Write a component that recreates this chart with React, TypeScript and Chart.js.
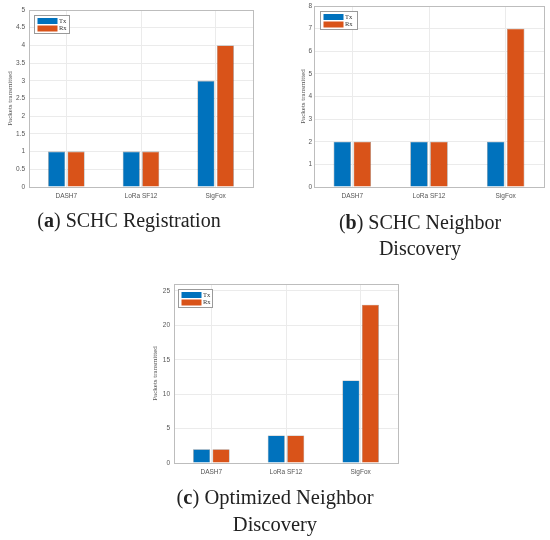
import React, { useRef, useEffect } from "react";
import { Chart, registerables } from "chart.js";
Chart.register(...registerables);

const categories = ["DASH7", "LoRa SF12", "SigFox"];
const seriesNames = ["Tx", "Rx"];

const regTx = [1, 1, 3];
const regRx = [1, 1, 4];

const ndTx = [2, 2, 2];
const ndRx = [2, 2, 7];

const optTx = [2, 4, 12];
const optRx = [2, 4, 23];

const TX_COLOR = "#0072BD";
const RX_COLOR = "#D95319";
const GRID = "#ebebeb";
const TICK_COLOR = "#555";

// draws the box round the axes and the little matlab-style legend
const framePlugin = {
  id: "frameLegend",
  afterDraw(chart: any) {
    const { ctx, chartArea } = chart;
    const opts = chart.options.plugins.frameLegend || {};
    ctx.save();
    ctx.strokeStyle = "#bdbdbd";
    ctx.lineWidth = 1;
    ctx.strokeRect(
      Math.round(chartArea.left) + 0.5,
      Math.round(chartArea.top) + 0.5,
      Math.round(chartArea.right - chartArea.left),
      Math.round(chartArea.bottom - chartArea.top)
    );

    const x = Math.round(chartArea.left + (opts.dx || 5)) + 0.5;
    const y = Math.round(chartArea.top + (opts.dy || 5)) + 0.5;
    const w = opts.w || 35;
    const h = 18;
    ctx.fillStyle = "#fff";
    ctx.fillRect(x, y, w, h);
    ctx.strokeStyle = "#9a9a9a";
    ctx.strokeRect(x, y, w, h);
    chart.data.datasets.forEach((ds: any, i: number) => {
      const sy = y + 2.5 + i * 7.5;
      ctx.fillStyle = ds.backgroundColor;
      ctx.fillRect(x + 3, sy, 20, 6);
      ctx.fillStyle = "#333";
      ctx.font = "6.5px 'Liberation Serif', serif";
      ctx.textBaseline = "middle";
      ctx.fillText(ds.label, x + 24.5, sy + 3.2);
    });
    ctx.restore();
  },
};

type PanelProps = {
  left: number;
  top: number;
  width: number;
  height: number;
  padL: number;
  padT: number;
  padR: number;
  yW: number;
  xH: number;
  tickPad: number;
  max: number;
  step: number;
  tx: number[];
  rx: number[];
  legendDx: number;
  legendDy: number;
  legendW: number;
};

const Panel: React.FC<PanelProps> = (p) => {
  const chartRef = useRef<HTMLCanvasElement | null>(null);
  const chartInstanceRef = useRef<Chart | null>(null);

  useEffect(() => {
    if (!chartRef.current) return;
    const tickFont = { family: "'Liberation Sans', Arial, sans-serif", size: 6.5 };
    chartInstanceRef.current = new Chart(chartRef.current, {
      type: "bar",
      data: {
        labels: categories,
        datasets: [
          {
            label: seriesNames[0],
            data: p.tx,
            backgroundColor: TX_COLOR,
            borderColor: "rgba(40,40,40,0.55)",
            borderWidth: 0.6,
            categoryPercentage: 0.52,
            barPercentage: 0.88,
          },
          {
            label: seriesNames[1],
            data: p.rx,
            backgroundColor: RX_COLOR,
            borderColor: "rgba(40,40,40,0.55)",
            borderWidth: 0.6,
            categoryPercentage: 0.52,
            barPercentage: 0.88,
          },
        ],
      },
      options: {
        responsive: false,
        animation: false,
        layout: { padding: { left: p.padL, top: p.padT, right: p.padR, bottom: 0 } },
        plugins: {
          legend: { display: false },
          tooltip: { enabled: false },
          frameLegend: { dx: p.legendDx, dy: p.legendDy, w: p.legendW },
        } as any,
        scales: {
          x: {
            offset: true,
            grid: { offset: false, color: GRID, drawTicks: false },
            border: { color: "#9a9a9a" },
            ticks: { font: tickFont, color: TICK_COLOR, padding: 5, maxRotation: 0 },
            afterFit: (s: any) => {
              s.height = p.xH;
            },
          },
          y: {
            min: 0,
            max: p.max,
            grid: { color: GRID, drawTicks: false },
            border: { color: "#9a9a9a" },
            ticks: {
              stepSize: p.step,
              font: tickFont,
              color: TICK_COLOR,
              padding: p.tickPad,
              includeBounds: false,
              callback: (v: any) => String(Math.round(Number(v) * 10) / 10),
            },
            title: {
              display: true,
              text: "Packets transmitted",
              color: "#555",
              font: { family: "'Liberation Serif', serif", size: 7 },
              padding: { top: 6, bottom: 0 },
            },
            afterFit: (s: any) => {
              s.width = p.yW;
            },
          },
        },
      },
      plugins: [framePlugin],
    });

    return () => {
      if (chartInstanceRef.current) {
        chartInstanceRef.current.destroy();
      }
    };
  }, []);

  return (
    <div style={{ position: "absolute", left: p.left, top: p.top, width: p.width, height: p.height }}>
      <canvas ref={chartRef} width={p.width} height={p.height} style={{ width: p.width, height: p.height }} />
    </div>
  );
};

const captionStyle: React.CSSProperties = {
  position: "absolute",
  fontFamily: "'Liberation Serif', 'Times New Roman', serif",
  fontSize: 20,
  color: "#222",
  textAlign: "center",
  whiteSpace: "nowrap",
};

const App: React.FC = () => {
  return (
    <div style={{ position: "absolute", left: 0, top: 0, width: 550, height: 540, background: "#fff" }}>
      <Panel left={0} top={0} width={260} height={210} padL={0} padT={10} padR={7} yW={29} xH={23} tickPad={4}
        max={5} step={0.5} tx={regTx} rx={regRx} legendDx={5} legendDy={5} legendW={35} />
      <Panel left={275} top={0} width={275} height={210} padL={18} padT={6} padR={6} yW={21} xH={23} tickPad={2}
        max={8} step={1} tx={ndTx} rx={ndRx} legendDx={6} legendDy={5} legendW={37} />
      <Panel left={130} top={270} width={280} height={215} padL={15} padT={14} padR={12} yW={29} xH={22} tickPad={4}
        max={26} step={5} tx={optTx} rx={optRx} legendDx={4} legendDy={5} legendW={34} />

      <div style={{ ...captionStyle, left: 29, width: 200, top: 207, lineHeight: "26px" }}>
        (<b>a</b>) SCHC Registration
      </div>
      <div style={{ ...captionStyle, left: 320, width: 200, top: 209, lineHeight: "26px" }}>
        (<b>b</b>) SCHC Neighbor
        <br />
        Discovery
      </div>
      <div style={{ ...captionStyle, left: 175, width: 200, top: 484, lineHeight: "27px", fontSize: 20.5 }}>
        (<b>c</b>) Optimized Neighbor
        <br />
        Discovery
      </div>
    </div>
  );
};

export default App;
